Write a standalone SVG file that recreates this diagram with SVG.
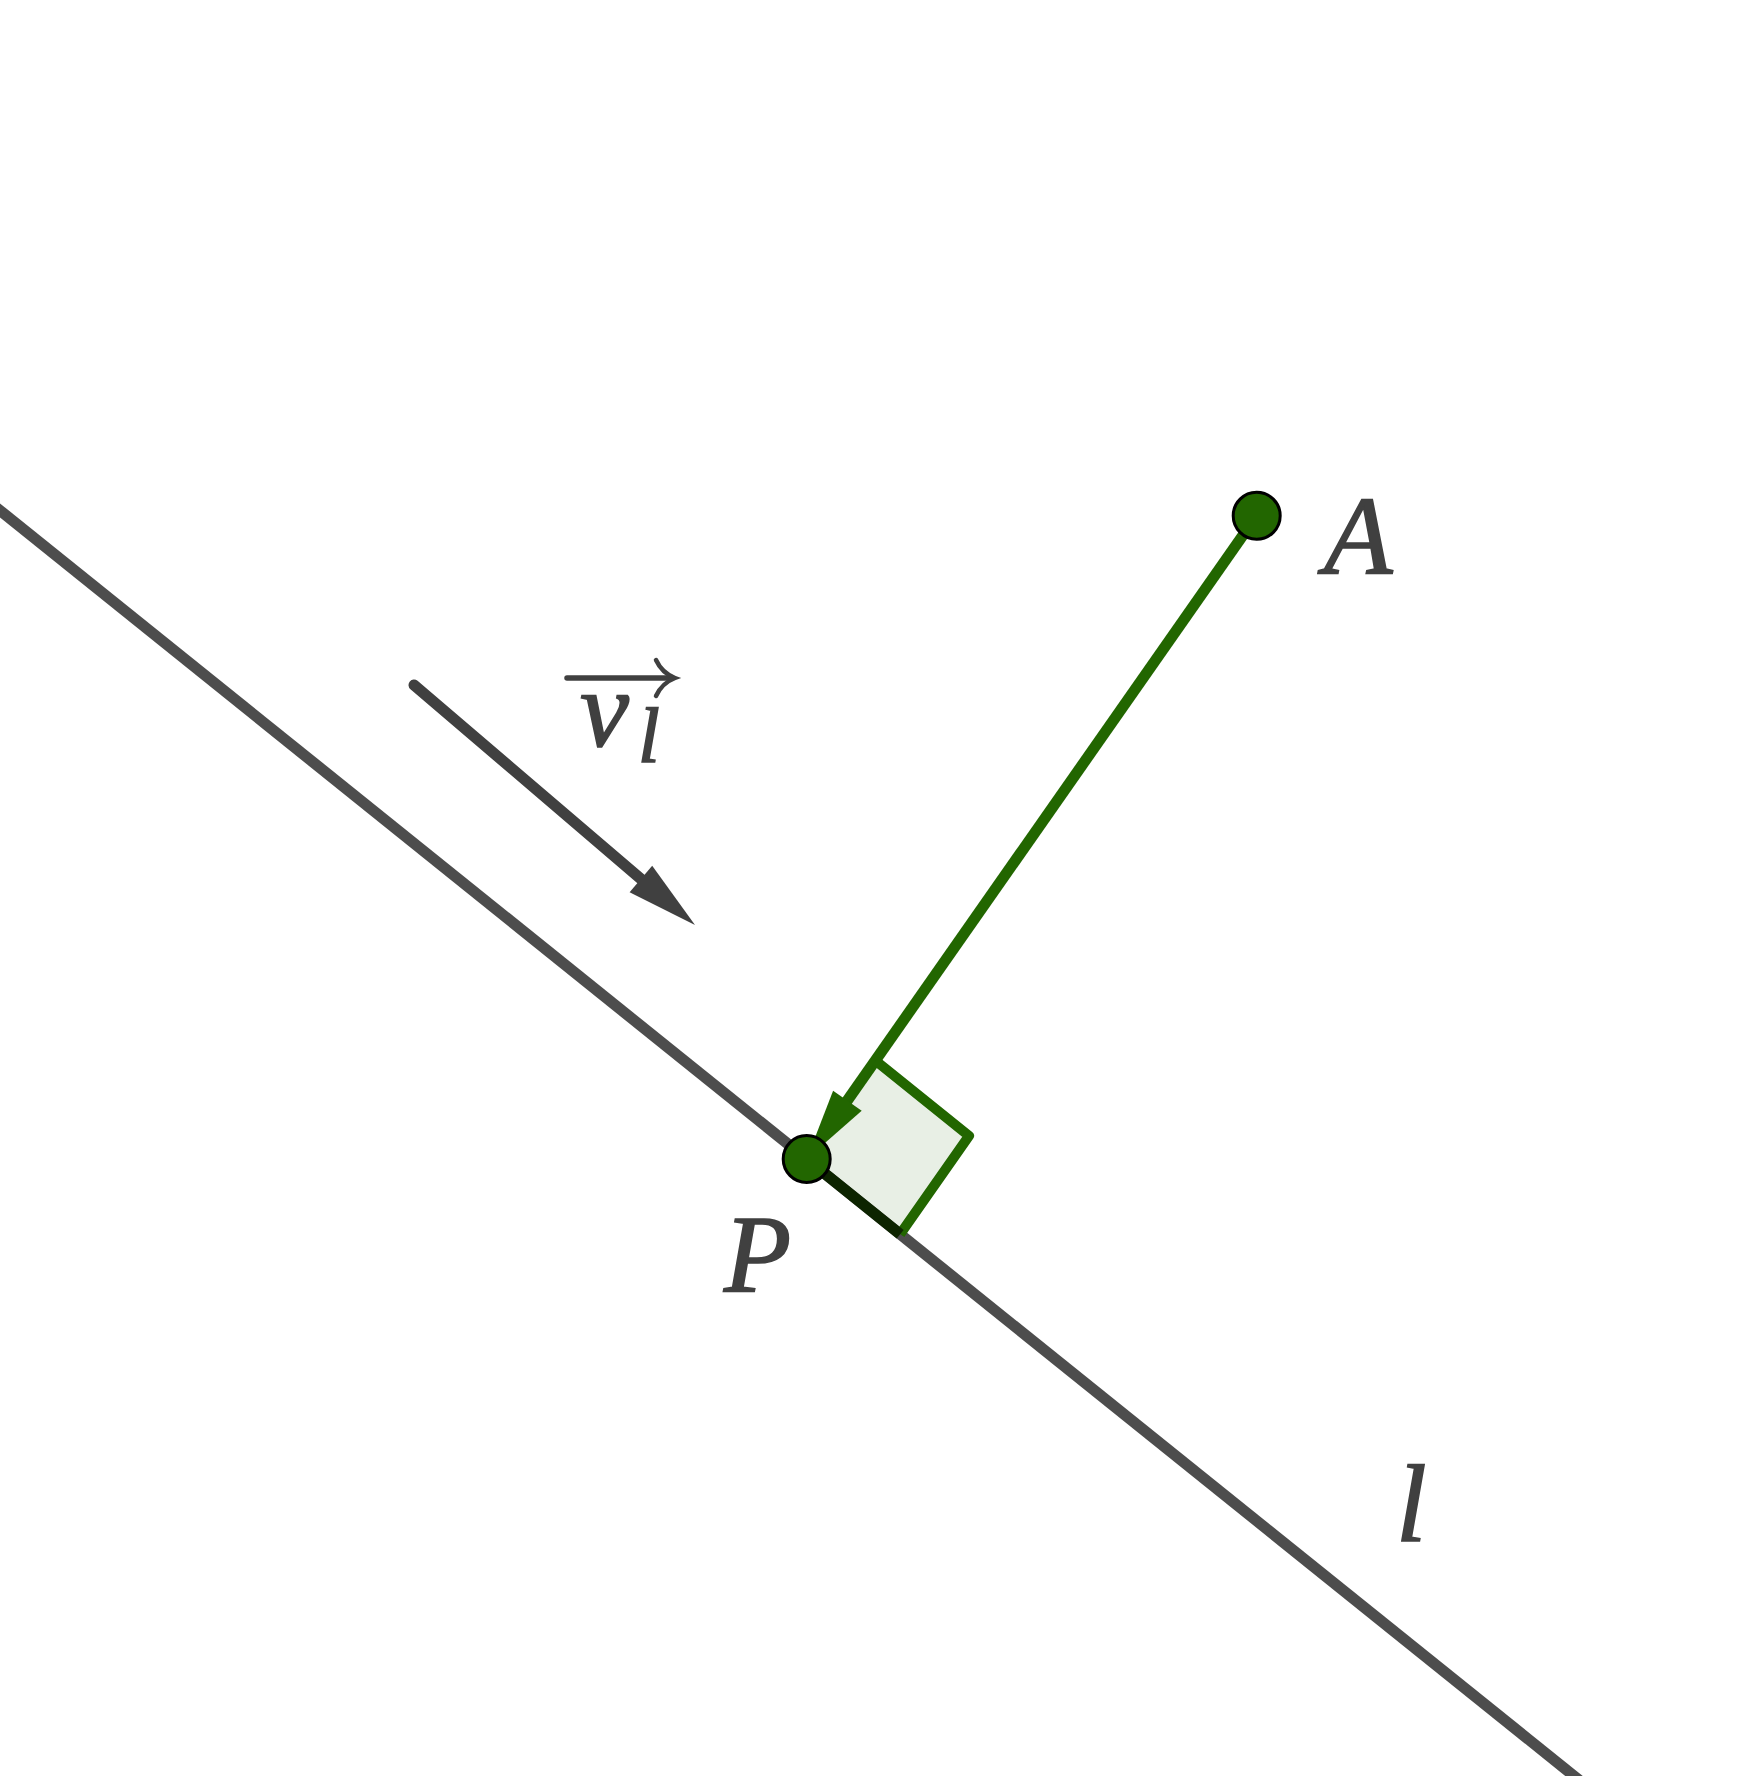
<svg xmlns="http://www.w3.org/2000/svg" width="1746" height="1776" viewBox="0 0 1746 1776">
<style>
  .lbl { font-family: "Liberation Serif", "DejaVu Serif", serif; font-style: italic; fill: #404040; stroke: #404040; stroke-width: 1.6; }
  .pt { fill: #226600; stroke: #000000; stroke-width: 3; }
</style>
<rect width="1746" height="1776" fill="#ffffff"/>
<g id="connectors">
  <g id="line-l">
    <line x1="-20" y1="494.4" x2="1600" y2="1796.9" stroke="#4d4d4d" stroke-width="11"/>
  </g>
  <g id="vector-vl">
    <line x1="414" y1="685" x2="655" y2="891" stroke="#404040" stroke-width="11" stroke-linecap="round"/>
    <polygon points="695,925 652.2,865.7 629.6,892.3" fill="#404040"/>
  </g>
  <g id="segment-AP">
    <line x1="1256.7" y1="515.7" x2="840" y2="1111" stroke="#226600" stroke-width="11"/>
  </g>
</g>
<g id="right-angle">
  <polygon points="806.7,1159 875.5,1060.7 969,1135.9 900.2,1234.2" fill="#226600" fill-opacity="0.1"/>
  <polyline points="875.5,1060.7 969,1135.9 900.2,1234.2" fill="none" stroke="#226600" stroke-width="10" stroke-linejoin="round"/>
  <line x1="806.7" y1="1159" x2="900.2" y2="1234.2" stroke="#0d2400" stroke-width="11"/>
</g>
<g id="arrowhead-AP">
  <polygon points="806.7,1159 861.7,1110.8 833.1,1090.8" fill="#226600"/>
</g>
<g id="node-A">
  <circle class="pt" cx="1256.7" cy="515.7" r="23.5"/>
  <text class="lbl" x="1324" y="574" font-size="112">A</text>
</g>
<g id="node-P">
  <circle class="pt" cx="806.7" cy="1159" r="23.5"/>
  <text class="lbl" x="724" y="1291" font-size="110">P</text>
</g>
<g id="label-l">
  <text class="lbl" x="1396" y="1541" font-size="110">l</text>
</g>
<g id="label-vl">
  <line x1="567" y1="678" x2="672" y2="678" stroke="#404040" stroke-width="5.5" stroke-linecap="round"/>
  <path d="M656,660 Q662,673 675,678 Q662,683 656,696" fill="none" stroke="#404040" stroke-width="4.5" stroke-linecap="round"/>
  <text class="lbl" x="580" y="746" font-size="110">v</text>
  <text class="lbl" x="638" y="762" font-size="78">l</text>
</g>
</svg>
